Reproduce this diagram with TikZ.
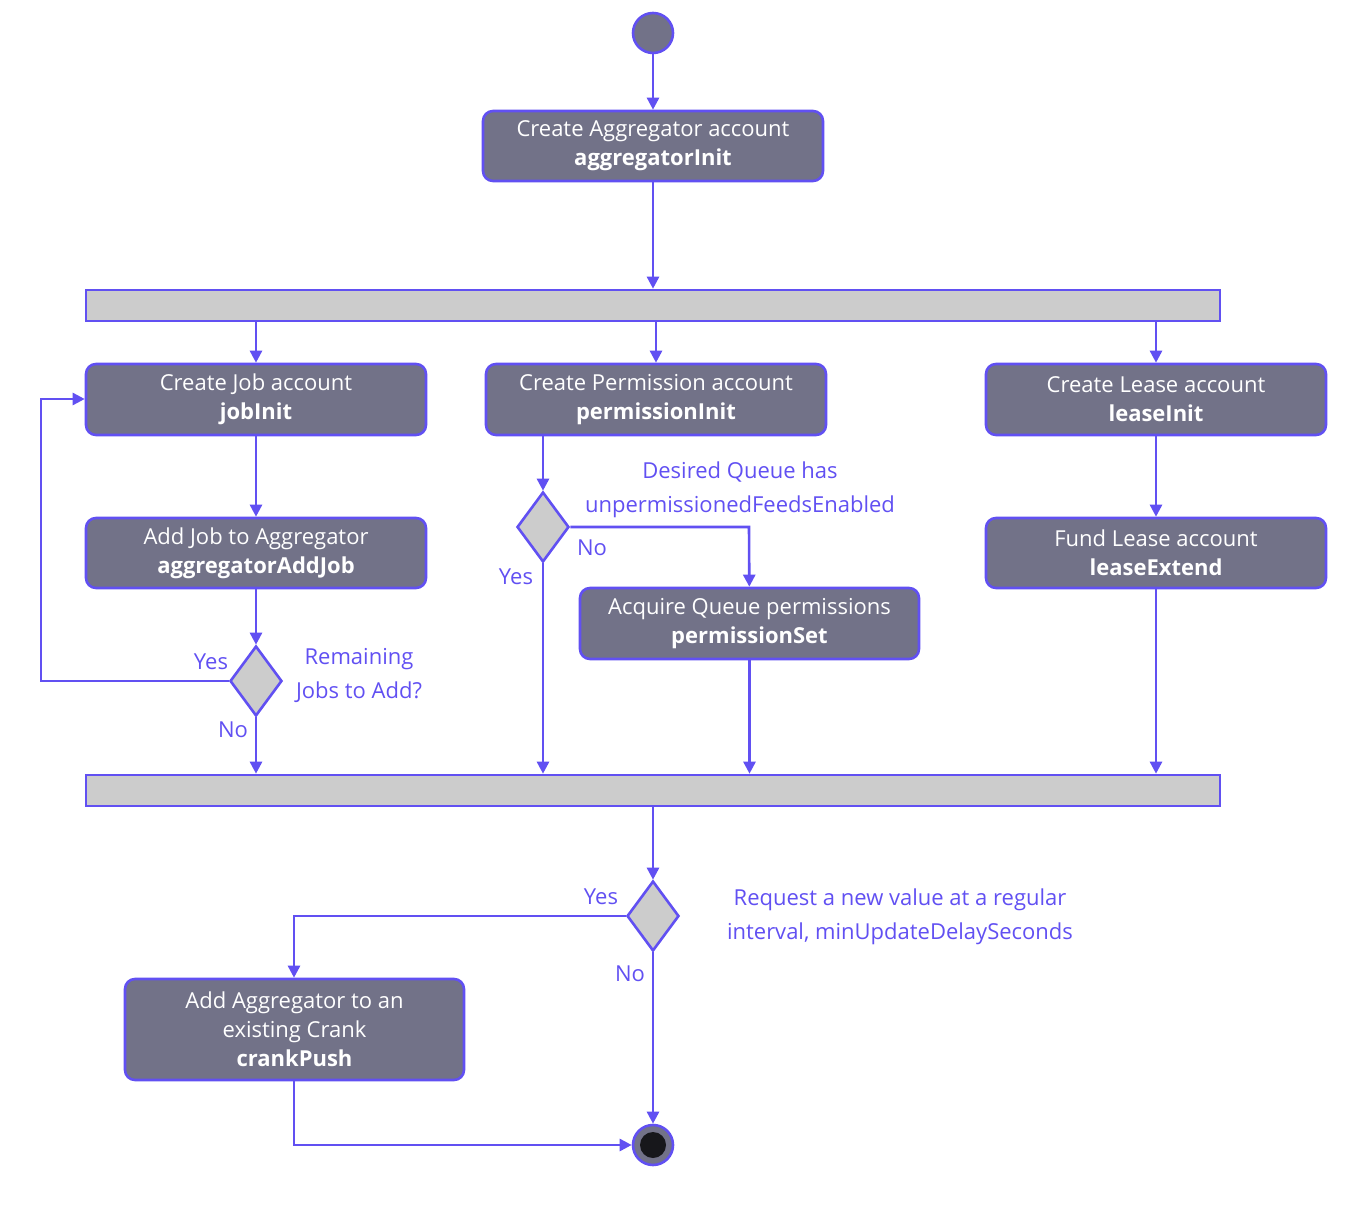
\documentclass[tikz,border=0pt]{standalone}
\usepackage{fontspec}
\setmainfont{Open Sans}
\usetikzlibrary{arrows.meta,shapes.geometric}
\definecolor{ln}{HTML}{6150F2}
\definecolor{bx}{HTML}{727288}
\definecolor{bar}{HTML}{CCCCCC}
\begin{document}
\begin{tikzpicture}[x=0.5pt,y=-0.5pt,
 line width=1.3pt,
 arr/.style={draw=ln,-{Triangle[length=6pt,width=6pt]}},
 box/.style={draw=ln,fill=bx,rounded corners=5pt,text=white,font=\fontsize{11}{14.5}\selectfont,align=center,inner sep=0pt},
 barS/.style={draw=ln,fill=bar},
 dia/.style={draw=ln,fill=bar,diamond,minimum width=26pt,minimum height=35pt,inner sep=0pt},
 lab/.style={text=ln,font=\fontsize{11}{17}\selectfont,align=center}]
\useasboundingbox (0,0) rectangle (1358,1213);
\node[circle,draw=ln,fill=bx,minimum size=20pt,inner sep=0pt] (st) at (653,33) {};
\node[box,minimum width=170pt,minimum height=35pt] (agg) at (653,146) {Create Aggregator account\\\textbf{aggregatorInit}};
\node[barS,minimum width=567pt,minimum height=15.5pt,inner sep=0pt] (b1) at (653,305.5) {};
\node[box,minimum width=170pt,minimum height=35.5pt] (job) at (256,399.5) {Create Job account\\\textbf{jobInit}};
\node[box,minimum width=170pt,minimum height=35.5pt] (perm) at (656,399.5) {Create Permission account\\\textbf{permissionInit}};
\node[box,minimum width=170pt,minimum height=35.5pt] (lease) at (1156,399.5) {Create Lease account\\\textbf{leaseInit}};
\node[box,minimum width=170pt,minimum height=35pt] (add) at (256,553) {Add Job to Aggregator\\\textbf{aggregatorAddJob}};
\node[box,minimum width=170pt,minimum height=35pt] (fund) at (1156,553) {Fund Lease account\\\textbf{leaseExtend}};
\node[box,minimum width=169.5pt,minimum height=35.5pt] (pset) at (749.5,623.5) {Acquire Queue permissions\\\textbf{permissionSet}};
\node[dia] (d1) at (256,681) {};
\node[dia] (d2) at (543,527) {};
\node[barS,minimum width=567pt,minimum height=15.5pt,inner sep=0pt] (b2) at (653,790.5) {};
\node[dia] (d3) at (653,916) {};
\node[box,minimum width=169.5pt,minimum height=50.5pt] (crank) at (294.5,1029.5) {Add Aggregator to an\\existing Crank\\\textbf{crankPush}};
\node[circle,draw=ln,fill=bx,minimum size=20pt,inner sep=0pt] (en) at (653,1145) {};
\node[circle,fill=black!80!bx,minimum size=13pt,inner sep=0pt] (enc) at (653,1145) {};
\node[lab] (l1) at (359,675) {Remaining\\Jobs to Add?};
\node[lab] (l2) at (211,662) {Yes};
\node[lab] (l3) at (233,730) {No};
\node[lab] (l4) at (740,490) {Desired Queue has\\unpermissionedFeedsEnabled};
\node[lab] (l5) at (592,548) {No};
\node[lab] (l6) at (516,577) {Yes};
\node[lab] (l7) at (601,897) {Yes};
\node[lab] (l8) at (630,974) {No};
\node[lab] (l9) at (900,917) {Request a new value at a regular\\interval, minUpdateDelaySeconds};
\coordinate (c1) at (41,681); \coordinate (c2) at (41,399);
\coordinate (c3) at (749,527); \coordinate (c4) at (294,916); \coordinate (c5) at (294,1145);
\draw[arr] (st) -- (agg);
\draw[arr] (agg) -- (b1);
\draw[arr] (b1.south -| job) -- (job);
\draw[arr] (b1.south -| perm) -- (perm);
\draw[arr] (b1.south -| lease) -- (lease);
\draw[arr] (job) -- (add);
\draw[arr] (lease) -- (fund);
\draw[arr] (add) -- (d1);
\draw[arr] (d1.west) -- (c1) -- (c2) -- (job.west |- c2);
\draw[arr] (d1) -- (b2.north -| d1);
\draw[arr] (perm.south -| d2) -- (d2);
\draw[arr] (d2.east) -- (c3) -- (pset);
\draw[arr] (d2) -- (b2.north -| d2);
\draw[arr] (pset) -- (b2.north -| pset);
\draw[arr] (fund) -- (b2.north -| fund);
\draw[arr] (b2) -- (d3);
\draw[arr] (d3.west) -- (c4) -- (crank.north -| c4);
\draw[arr] (d3) -- (en);
\draw[arr] (crank.south -| c5) -- (c5) -- (en.west);
\end{tikzpicture}
\end{document}
